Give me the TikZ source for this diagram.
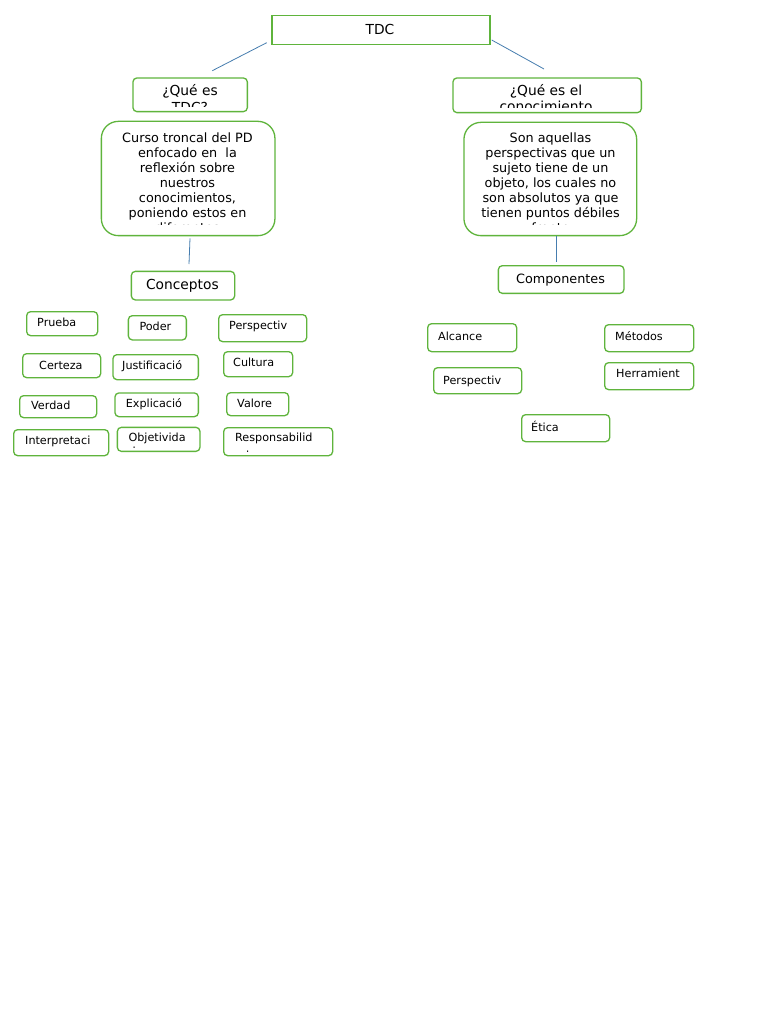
\documentclass[tikz,border=0pt]{standalone}
\usepackage{fontspec}
\setmainfont{DejaVu Sans}
\usetikzlibrary{calc}
\definecolor{bx}{RGB}{95,180,60}
\definecolor{ln}{RGB}{70,125,175}
\tikzset{
  box/.style={draw=bx, line width=1.3pt, rounded corners=4pt, inner sep=0pt, anchor=north west},
  bigbox/.style={box, rounded corners=17pt},
  conn/.style={draw=ln, line width=0.8pt},
  thead/.style={font=\fontsize{13.8}{16}\selectfont, inner sep=0pt, anchor=base},
  tpar/.style={font=\fontsize{12.8}{15}\selectfont, inner sep=0pt, anchor=base},
  tsm/.style={font=\fontsize{11.2}{13}\selectfont, inner sep=0pt, anchor=base west},
}
\begin{document}
\begin{tikzpicture}[x=1pt,y=-1pt]
\path[use as bounding box, fill=white] (0,0) rectangle (768,1024);

% ---------- top ----------
\node[box, rounded corners=0pt, line width=1.5pt, minimum width=218pt, minimum height=29pt] (tdc) at (271,15) {};
\node[thead] (tdct) at (380,34.5) {TDC};

\node[box, minimum width=114.4pt, minimum height=33.7pt] (q1) at (132.3,77.3) {};
\begin{scope}
  \clip (q1.north west) rectangle ($(q1.south east)+(0,-6)$);
  \node[thead] (q1a) at (190,95.5) {¿Qué es};
  \node[thead] (q1b) at (190,113) {TDC?};
\end{scope}

\node[box, minimum width=188.4pt, minimum height=34.7pt] (q2) at (452.3,77.3) {};
\begin{scope}
  \clip (q2.north west) rectangle ($(q2.south east)+(0,-6)$);
  \node[thead] (q2a) at (546,95.5) {¿Qué es el};
  \node[thead] (q2b) at (546,112) {conocimiento};
\end{scope}

\coordinate (c1a) at (266.7,42.7);
\coordinate (c1b) at (212.3,70.7);
\coordinate (c2a) at (491.7,40);
\coordinate (c2b) at (544,69);
\draw[conn] (c1a) -- (c1b);
\draw[conn] (c2a) -- (c2b);

% ---------- paragraphs ----------
\node[bigbox, minimum width=173.6pt, minimum height=114.3pt] (p1) at (100.7,120.7) {};
\begin{scope}
  \clip (p1.north west) rectangle ($(p1.south east)+(0,-12)$);
  \foreach \t [count=\i] in {Curso troncal del PD, enfocado en\ \ la, reflexión sobre, nuestros, {conocimientos,}, poniendo estos en, diferentes}
    \node[tpar] (p1l\i) at (187.5,{143+15*(\i-1)}) {\t};
\end{scope}

\node[bigbox, minimum width=172.7pt, minimum height=113.3pt] (p2) at (463.3,121.7) {};
\begin{scope}
  \clip (p2.north west) rectangle ($(p2.south east)+(0,-12)$);
  \foreach \t [count=\i] in {Son aquellas, perspectivas que un, sujeto tiene de un, {objeto, los cuales no}, son absolutos ya que, tienen puntos débiles, frente}
    \node[tpar] (p2l\i) at (550.5,{143+15*(\i-1)}) {\t};
\end{scope}

\node[box, minimum width=103.3pt, minimum height=28.6pt] (conc) at (130.7,270.7) {};
\node[thead] (conct) at (182.4,289) {Conceptos};
\node[box, minimum width=125.6pt, minimum height=27.7pt] (comp) at (497.7,265) {};
\node[tpar] (compt) at (560.5,283) {Componentes};

\coordinate (c3a) at (190,238.3);
\coordinate (c3b) at (189,264);
\coordinate (c4a) at (556,235.5);
\coordinate (c4b) at (556,261.7);
\draw[conn] (c3a) -- (c3b);
\draw[conn] (c4a) -- (c4b);

% ---------- left small boxes ----------
\node[box, minimum width=71pt, minimum height=24pt] (b1) at (26,311) {};
\node[tsm] (b1t) at (37,326.7) {Prueba};
\node[box, minimum width=58pt, minimum height=24.3pt] (b2) at (127.7,315) {};
\node[tsm] (b2t) at (139.3,330.7) {Poder};
\node[box, minimum width=88pt, minimum height=27pt] (b3) at (218,314) {};
\node[tsm] (b3t) at (229,329) {Perspectiv};

\node[box, minimum width=78pt, minimum height=24pt] (b4) at (22,353) {};
\node[tsm] (b4t) at (39,369) {Certeza};
\node[box, minimum width=85.4pt, minimum height=25pt] (b5) at (112.3,354) {};
\node[tsm] (b5t) at (122,369) {Justificació};
\node[box, minimum width=69pt, minimum height=25pt] (b6) at (223,351) {};
\node[tsm] (b6t) at (233,366.3) {Cultura};

\node[box, minimum width=77pt, minimum height=22pt] (b7) at (19,395) {};
\node[tsm] (b7t) at (31,409) {Verdad};
\node[box, minimum width=83.4pt, minimum height=23.7pt] (b8) at (114.3,392.3) {};
\node[tsm] (b8t) at (125.7,407.3) {Explicació};
\node[box, minimum width=62pt, minimum height=23pt] (b9) at (226,392) {};
\node[tsm] (b9t) at (237,407.3) {Valore};

\node[box, minimum width=95pt, minimum height=26pt] (b10) at (13,429) {};
\node[tsm] (b10t) at (25,444) {Interpretaci};
\node[box, minimum width=82.6pt, minimum height=24pt] (b11) at (116.7,426.7) {};
\begin{scope}
  \clip (b11.north west) rectangle ($(b11.south east)+(0,-4.5)$);
  \node[tsm] (b11t) at (128.3,441.3) {Objetivida};
  \node[tsm] (b11u) at (128.3,455.3) {d};
\end{scope}
\node[box, minimum width=109pt, minimum height=28pt] (b12) at (223,427) {};
\begin{scope}
  \clip (b12.north west) rectangle ($(b12.south east)+(0,-4.5)$);
  \node[tsm] (b12t) at (235,441.7) {Responsabilid};
  \node[tsm] (b12u) at (235,459.5) {ad};
\end{scope}

% ---------- right small boxes ----------
\node[box, minimum width=89pt, minimum height=28pt] (r1) at (427,323) {};
\node[tsm] (r1t) at (438,340.7) {Alcance};
\node[box, minimum width=89pt, minimum height=27pt] (r2) at (604,324) {};
\node[tsm] (r2t) at (615,340) {Métodos};
\node[box, minimum width=88pt, minimum height=26pt] (r3) at (433,367) {};
\node[tsm] (r3t) at (443,384) {Perspectiv};
\node[box, minimum width=89pt, minimum height=27pt] (r4) at (604,362) {};
\node[tsm] (r4t) at (616,377) {Herramient};
\node[box, minimum width=88pt, minimum height=27pt] (r5) at (521,414) {};
\node[tsm] (r5t) at (531,431) {Ética};
\end{tikzpicture}
\end{document}
